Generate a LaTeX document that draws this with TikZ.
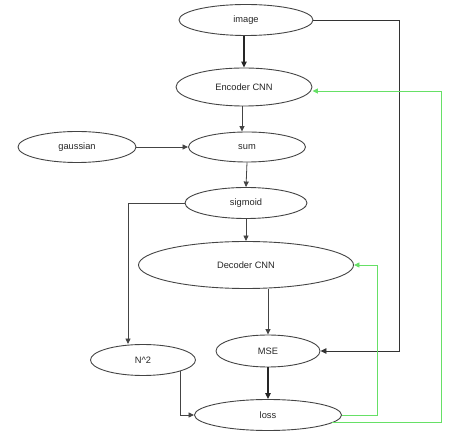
\documentclass[tikz,border=0pt]{standalone}
\usepackage{fontspec}
\setmainfont{Liberation Sans}
\usetikzlibrary{shapes.geometric,arrows.meta}
\definecolor{lineg}{HTML}{444444}
\definecolor{lgreen}{HTML}{66E066}
\tikzset{
  ell/.style={ellipse,draw=lineg,line width=0.9pt,inner sep=0pt,font=\fontsize{9.3}{11}\selectfont,text=black!85},
  arr/.style={draw=lineg,line width=0.8pt,-{Triangle[length=5.5pt,width=5pt]}},
  thickarr/.style={draw=black!85,line width=1.2pt,-{Triangle[length=6pt,width=5.5pt]}},
  darkarr/.style={draw=black!80,line width=0.9pt,-{Triangle[length=6pt,width=5.5pt]}},
  garr/.style={draw=lgreen,line width=0.9pt,-{Triangle[length=5.5pt,width=5pt]}}
}
\begin{document}
\begin{tikzpicture}[x=1pt,y=-1pt]
\useasboundingbox (0,0) rectangle (474,443);
\node[ell,minimum width=134pt,minimum height=31pt] (img) at (246,20) {image};
\node[ell,minimum width=136pt,minimum height=38pt] (enc) at (244,87) {Encoder CNN};
\node[ell,minimum width=118pt,minimum height=31pt] (gau) at (77,147) {gaussian};
\node[ell,minimum width=117pt,minimum height=30pt] (sum) at (247,147) {sum};
\node[ell,minimum width=122pt,minimum height=31pt] (sig) at (246,203) {sigmoid};
\node[ell,minimum width=215pt,minimum height=47pt] (dec) at (246,265) {Decoder CNN};
\node[ell,minimum width=105pt,minimum height=31pt] (n2) at (143,360) {N\^{}2};
\node[ell,minimum width=104pt,minimum height=32pt] (mse) at (268,351) {MSE};
\node[ell,minimum width=147pt,minimum height=31pt] (loss) at (268,415) {loss};

\draw[thickarr] (enc.north |- img.south) -- (enc.north);
\draw[arr] ([xshift=-2pt]enc.south) -- ([xshift=-2pt]enc.south |- sum.north);
\draw[arr] (gau.east) -- (sum.west);
\draw[arr] (sum.south) -- (sig.north);
\draw[arr] (sig.south) -- (dec.north);
\draw[arr] (sig.west) -| ([xshift=-15pt]n2.north);
\draw[arr] (mse.north |- dec.south) -- (mse.north);
\draw[darkarr] (img.east) -- ++(86,0) |- (mse.east);
\draw[thickarr] (mse.south) -- (loss.north);
\draw[arr] (n2.south east) |- (loss.west);
\draw[garr] (loss.east) -- ++(35.5,0) |- (dec.east);
\draw[garr] (loss.-7) -| (441.5,91) -- ([yshift=-4pt]enc.east);
\end{tikzpicture}
\end{document}
